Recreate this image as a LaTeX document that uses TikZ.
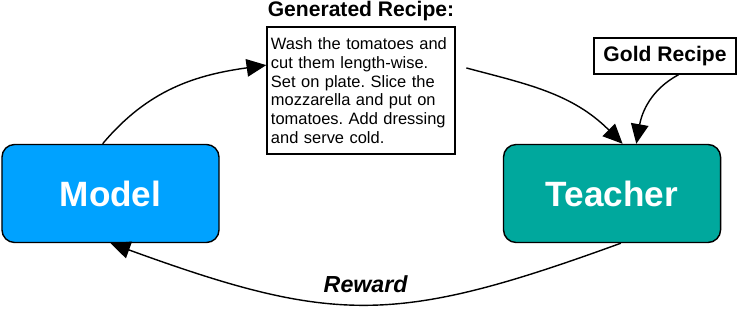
\documentclass[tikz,border=0pt]{standalone}
\usepackage{fontspec}
\setmainfont{Liberation Sans}
\usetikzlibrary{positioning,arrows.meta,calc}
\definecolor{modelblue}{RGB}{0,162,255}
\definecolor{teachergreen}{RGB}{0,168,157}
\frenchspacing

\begin{document}
\begin{tikzpicture}[x=0.025cm, y=0.025cm, line width=1pt,
  agent/.style={draw, rounded corners=9pt, minimum width=5.425cm, minimum height=2.45cm,
    text=white, font=\fontsize{25}{30}\selectfont\bfseries},
  flow/.style={-{Triangle[length=14pt,width=12.5pt]}}]
  \useasboundingbox (0,0) rectangle (742,309);

  \node[agent, fill=modelblue] (model) at (110.5,115.5) {Model};
  \node[agent, fill=teachergreen, right=7.075cm of model] (teacher) {Teacher};
  \node[draw, align=left, text width=4.5cm, inner xsep=0.1cm, minimum height=3.175cm,
    font=\fontsize{11.7}{13.3}\selectfont] (recipe) at (361,218.5)
    {Wash the tomatoes and\\cut them length-wise.\\Set on plate. Slice the\\mozzarella and put on\\tomatoes. Add dressing\\and serve cold.};
  \node[inner sep=0pt, above=3.5pt of recipe, font=\fontsize{15}{18}\selectfont\bfseries] (title) {Generated Recipe:};
  \node[draw, minimum width=3.55cm, minimum height=0.9cm,
    font=\fontsize{15}{18}\selectfont\bfseries] (gold) at (665,253) {Gold Recipe};

  \draw[flow] (model.99) to[out=50, in=188] (recipe.165);
  \draw[flow, shorten <=0.275cm] (recipe.15) to[out=-15, in=135] (teacher.78);
  \draw[flow] (gold.-54) to[out=208, in=80] (teacher.64);
  \draw[flow] (teacher.-80) to[out=200, in=340, looseness=1.2]
    node[inner sep=0pt, above=7.5pt, font=\fontsize{16.5}{20}\selectfont\bfseries\itshape] (reward) {Reward}
    (model.south);
\end{tikzpicture}
\end{document}
